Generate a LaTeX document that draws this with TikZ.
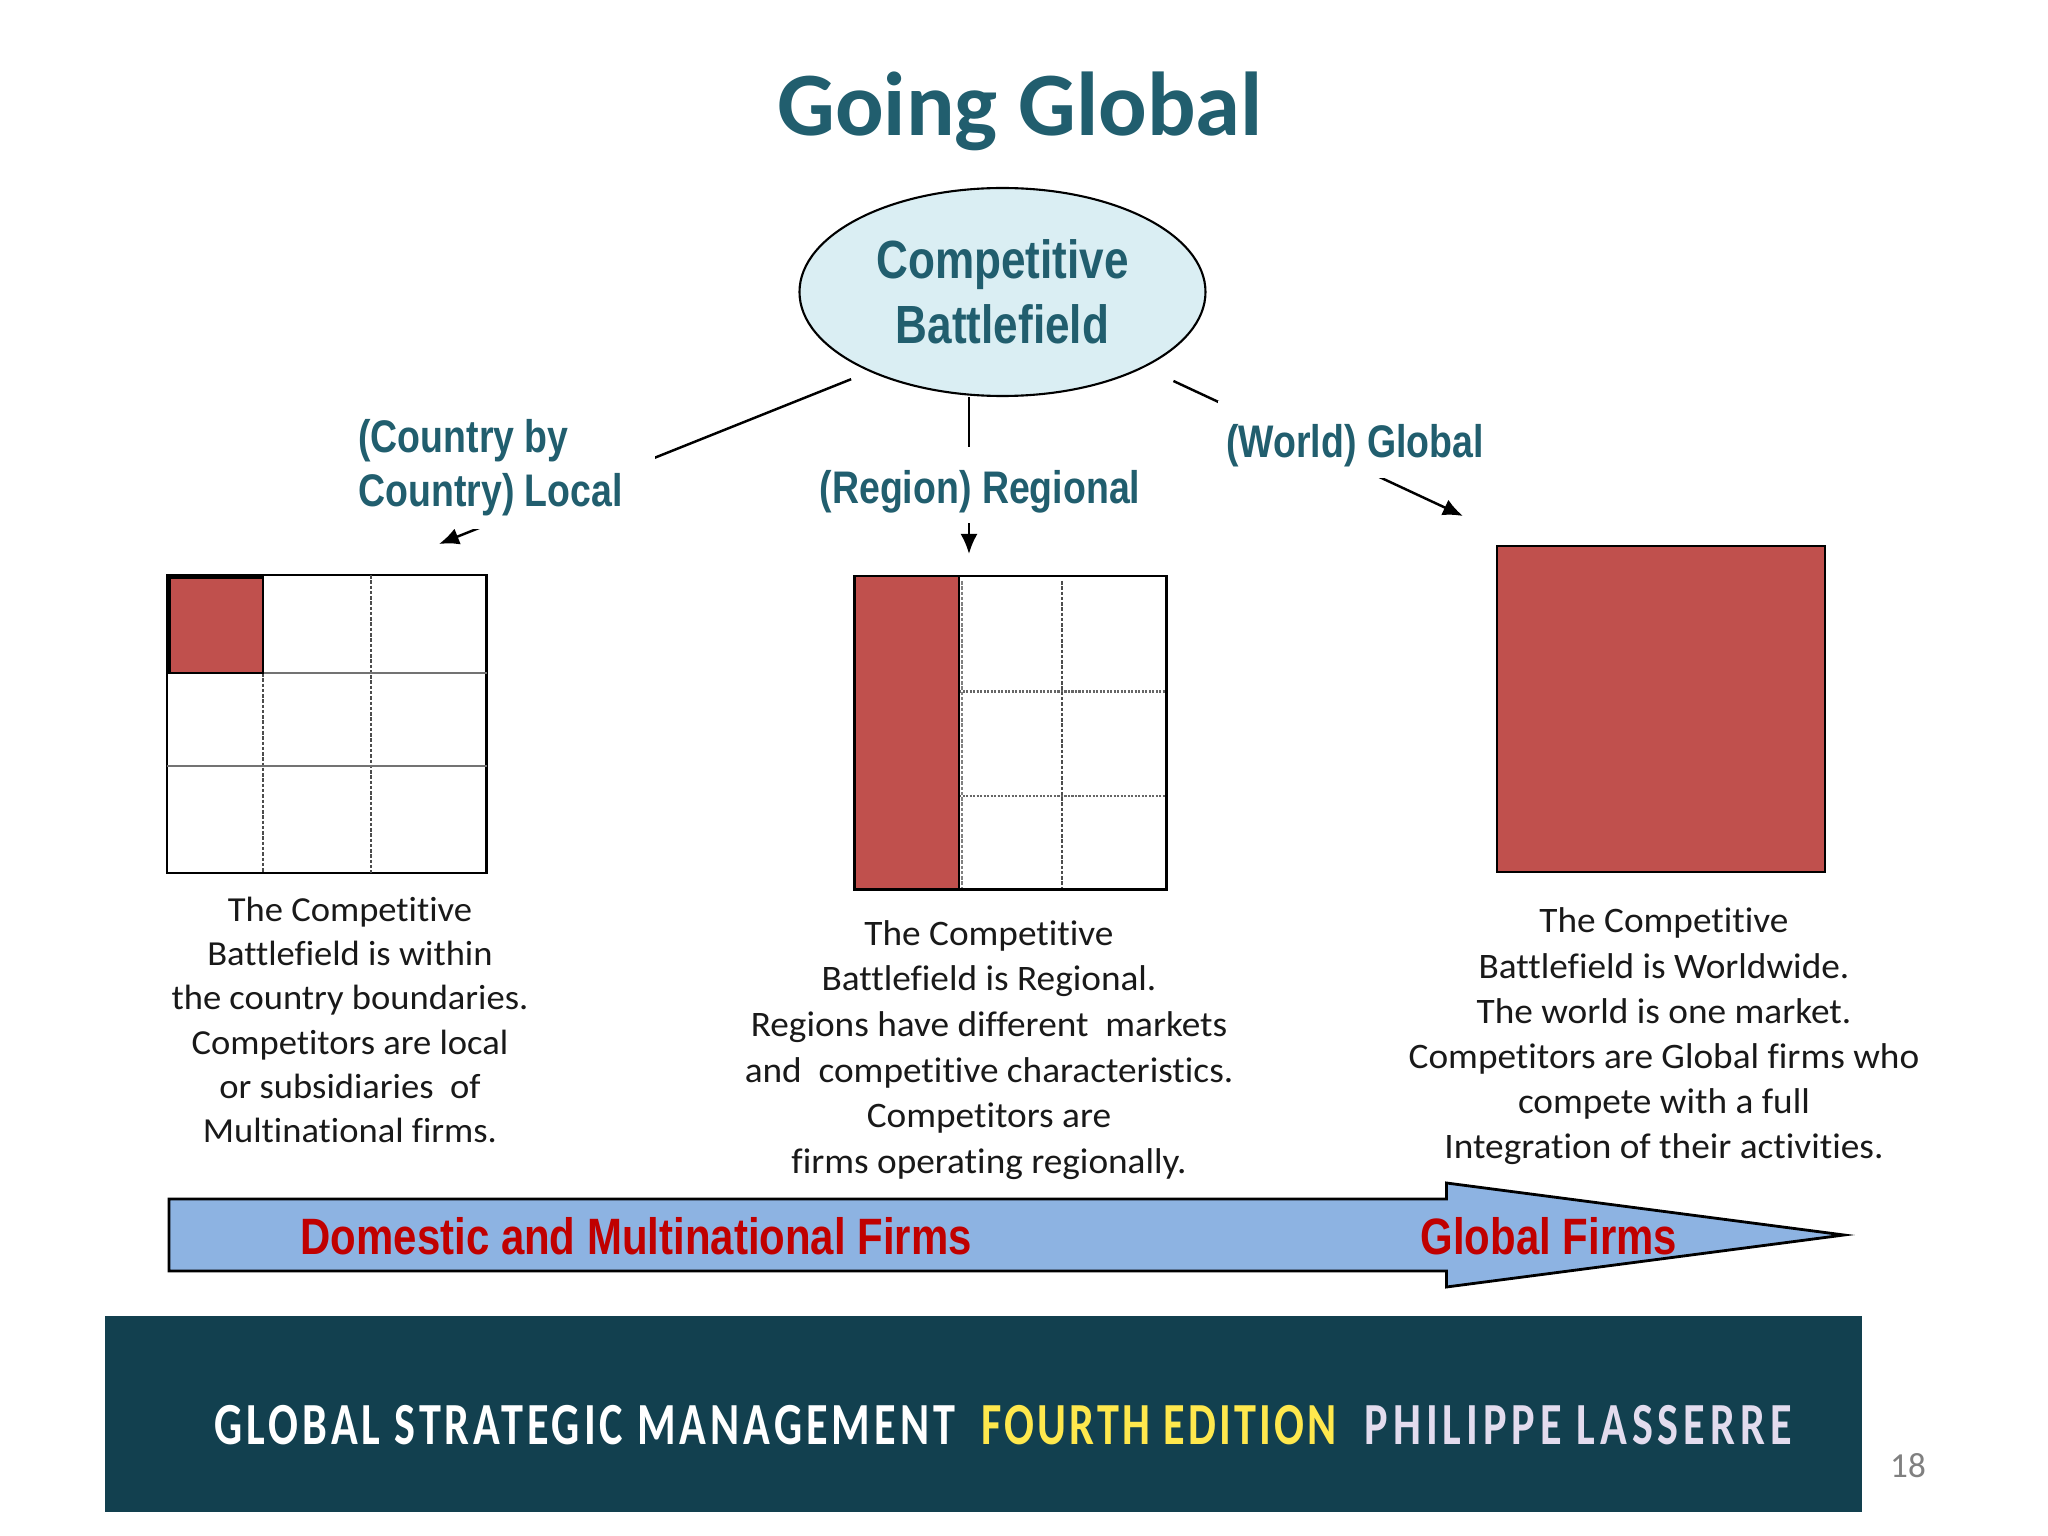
\documentclass[tikz,border=0pt]{standalone}
\usepackage{fontspec}
\usepackage{tikz}
\usetikzlibrary{shapes.geometric}
\usetikzlibrary{arrows.meta}
\setmainfont[RawFeature={-liga}]{Carlito}
\newfontfamily\labelfont[FakeStretch=0.82]{Liberation Sans}
\newfontfamily\bodyfont[FakeStretch=1.04,RawFeature={-liga}]{Carlito}
\newfontfamily\bannerfont[FakeStretch=0.74]{Carlito}
\definecolor{tealtext}{HTML}{215E6E}
\definecolor{paleblue}{HTML}{DAEEF3}
\definecolor{brick}{HTML}{C0504D}
\definecolor{shaftblue}{HTML}{8DB3E2}
\definecolor{firmred}{HTML}{C00000}
\definecolor{bannerteal}{HTML}{12404F}
\definecolor{bannerlilac}{HTML}{E3DCEE}
\definecolor{banneryellow}{HTML}{FFE84D}
\tikzset{
  arrowline/.style={line width=0.7pt, -{Latex[length=0.2cm,width=0.17cm]}},
  tealbold/.style={text=tealtext, font=\labelfont\bfseries\fontsize{13}{15.4}\selectfont},
  scopelabel/.style={tealbold, fill=white, anchor=base, inner xsep=0.08cm, inner ysep=0cm, text height=0.565cm, text depth=0.2cm},
  redbold/.style={text=firmred, anchor=base west, inner sep=0pt, font=\labelfont\bfseries\fontsize{14.55}{16}\selectfont},
  bodytext/.style 2 args={align=center, inner sep=0pt, text=black!90, font=\bodyfont\fontsize{#1}{#2}\selectfont},
  bannertext/.style={anchor=base west, inner sep=0pt, font=\bannerfont\bfseries\fontsize{17}{18}\selectfont\addfontfeature{LetterSpace=#1}},
  gridsolid/.style={draw=black!55, line width=0.6pt},
  griddash/.style={draw=black!70, line width=0.5pt, dash pattern=on 1pt off 0.5pt},
  griddot/.style={draw=black!60, line width=0.8pt, dash pattern=on 0.6pt off 0.4pt},
  gridframe/.style={draw=black, line width=0.7pt}
}
\begin{document}
\begin{tikzpicture}
        \useasboundingbox (0,0) rectangle (20.48,-15.36);
        \fill[white] (0,0) rectangle (20.48,-15.36);
        \node[text=tealtext, font=\bfseries\fontsize{25.8}{30}\selectfont, inner sep=0pt] (title) at (10.2,-1.115) {Going Global};
        % Ellipse and the three free ends
        \node[ellipse, draw=black, line width=0.6pt, fill=paleblue, minimum width=4.06cm, minimum height=2.08cm, inner sep=0pt,
              align=center, text=tealtext, font=\labelfont\bfseries\fontsize{15.3}{18.5}\selectfont] (battlefield) at (10.025,-2.92) {Competitive\\Battlefield};
        \coordinate (localend) at (4.39,-5.44);
        \coordinate (regionalend) at (9.69,-5.54);
        \coordinate (globalend) at (14.63,-5.16);
        \draw[arrowline, shorten <=0.2cm] (battlefield.211) -- (localend);
        \draw[arrowline] (battlefield.south -| regionalend) -- (regionalend);
        \draw[arrowline, shorten <=0.32cm] (battlefield.332.6) -- (globalend);
        \node[tealbold, fill=white, align=left, anchor=north west, inner xsep=0.32cm, inner ysep=0.128cm] (locallabel) at (3.257,-4.059) {(Country by\\Country) Local};
        \node[scopelabel] (regionallabel) at (9.8,-5.034) {(Region) Regional};
        \node[scopelabel] (globallabel) at (13.55,-4.58) {(World) Global};
        % Local grid
        \draw[gridframe] (1.67,-5.75) rectangle (4.865,-8.73);
        \draw[griddash] (2.63,-6.73) -- (2.63,-8.73);
        \draw[griddash] (3.71,-5.75) -- (3.71,-8.73);
        \foreach \y in {-6.73,-7.66} {
          \draw[gridsolid] (2.63,\y) -- (4.865,\y);
        }
        \draw[gridsolid] (1.67,-7.66) -- (2.63,-7.66);
        \draw[fill=brick, line width=0.6pt] (1.69,-5.77) rectangle (2.63,-6.73);
        \draw[line width=1.4pt] (1.69,-6.73) -- (1.69,-5.77) -- (2.63,-5.77);
        % Regional grid
        \draw[griddot] (9.59,-6.917) -- (11.666,-6.917);
        \draw[griddot] (9.59,-7.96) -- (11.666,-7.96);
        \draw[griddash] (10.62,-5.81) -- (10.62,-8.887);
        \draw[griddash, draw=black!50] (9.62,-5.81) -- (9.62,-8.887);
        \draw[gridframe] (8.545,-5.76) rectangle (11.666,-8.895);
        \draw[gridframe, fill=brick] (8.545,-5.76) rectangle (9.59,-8.895);
        % Global square
        \draw[gridframe, fill=brick] (14.97,-5.46) rectangle (18.25,-8.72);
        % Descriptions
        \node[bodytext={10}{12.6}] (localtext) at (3.50,-10.2) {The Competitive\\Battlefield is within\\the country boundaries.\\Competitors are local\\or subsidiaries\ \ of\\Multinational firms.};
        \node[bodytext={10.2}{13}] (regionaltext) at (9.89,-10.5) {The Competitive\\Battlefield is Regional.\\Regions have different\ \ markets\\and\ \ competitive characteristics.\\Competitors are\\firms operating regionally.};
        \node[bodytext={10.2}{12.85}] (globaltext) at (16.64,-10.365) {The Competitive\\Battlefield is Worldwide.\\The world is one market.\\Competitors are Global firms who\\compete with a full\\Integration of their activities.};
        % Firms arrow
        \draw[line width=0.8pt, fill=shaftblue] (1.69,-11.99) -- (14.465,-11.99) -- (14.465,-11.83) -- (18.44,-12.35) -- (14.465,-12.87) -- (14.465,-12.71) -- (1.69,-12.71) -- cycle;
        \node[redbold] (domestic) at (3.0,-12.54) {Domestic and Multinational Firms};
        \node[redbold] (globalfirms) at (14.2,-12.54) {Global Firms};
        % Banner
        \fill[bannerteal] (1.05,-13.16) rectangle (18.62,-15.12);
        \node[bannertext=6.7, text=white] (bookname) at (2.14,-14.44) {GLOBAL STRATEGIC MANAGEMENT};
        \node[bannertext=5.3, text=banneryellow] (bookedition) at (9.81,-14.44) {FOURTH EDITION};
        \node[bannertext=8.3, text=bannerlilac] (bookauthor) at (13.64,-14.44) {PHILIPPE LASSERRE};
        \node[text=black!50, inner sep=0pt, font=\fontsize{10}{12}\selectfont] (pagenumber) at (19.08,-14.66) {18};
    \end{tikzpicture}
\end{document}
